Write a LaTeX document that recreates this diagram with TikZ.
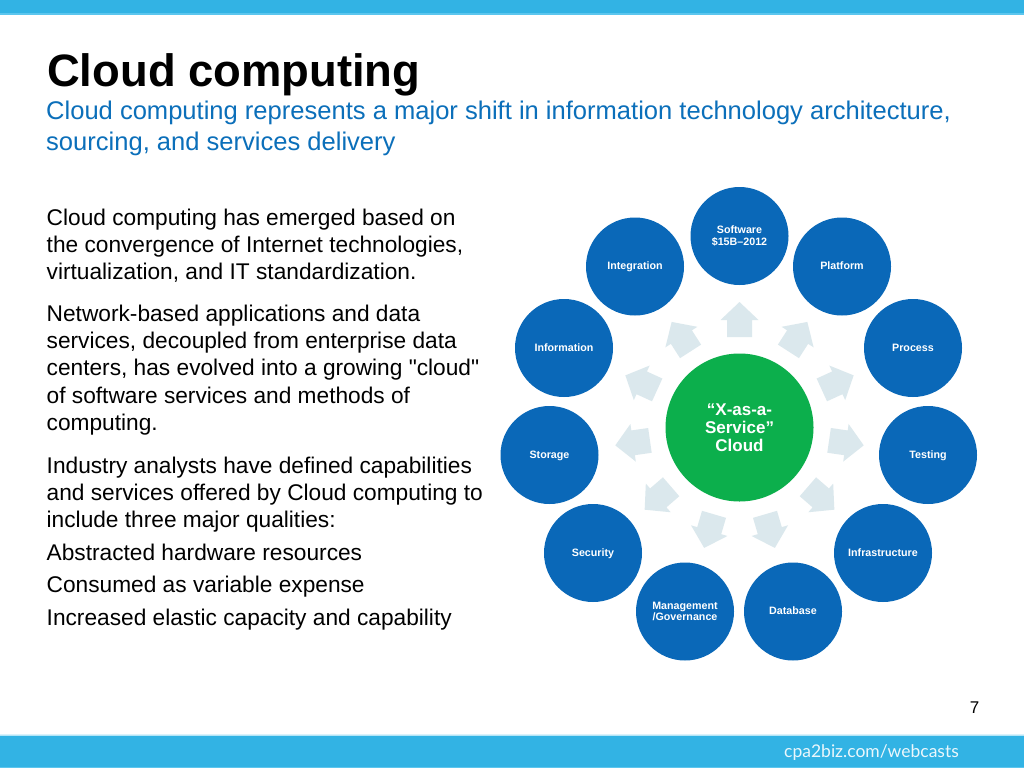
\documentclass[tikz,border=0pt]{standalone}
\usepackage{fontspec}
\setmainfont[Ligatures=TeXOff]{Liberation Sans}
\newfontfamily\footfont{Lato}
\definecolor{barblue}{HTML}{32B3E4}
\definecolor{barlight}{HTML}{5CC6EE}
\definecolor{subblue}{HTML}{0B6FBA}
\definecolor{discblue}{HTML}{0A68B8}
\definecolor{discgreen}{HTML}{0CAF4C}
\definecolor{arrowpale}{HTML}{DBE8ED}
\tikzset{
  disc/.style={circle,fill=discblue,minimum size=98pt,inner sep=0pt,text=white,align=center,
    font=\fontsize{10.7}{11.3}\selectfont\bfseries},
  discone/.style={disc,text height=7.5pt,text depth=1.5pt},
  hub/.style={circle,fill=discgreen,minimum size=148pt,inner sep=0pt,text=white,align=center,
    font=\fontsize{17}{17.8}\selectfont\bfseries},
  bodytext/.style={anchor=north west,inner sep=0pt,align=left,text=black,
    font=\fontsize{22.7}{27.4}\selectfont},
  blockarrow/.style={fill=arrowpale,draw=none},
}
\begin{document}
\begin{tikzpicture}[x=1pt,y=-1pt]
\useasboundingbox (0,0) rectangle (1024,768);
\fill[white] (0,0) rectangle (1024,768);
% bars
\fill[barblue] (0,0) rectangle (1024,14);
\fill[barlight] (0,13.5) rectangle (1024,15);
\fill[top color=white,bottom color=barlight!70!white] (0,733) rectangle (1024,736);
\fill[barblue] (0,736) rectangle (1024,767);
\fill[barlight] (0,767) rectangle (1024,768);
% title
\node[anchor=base west,inner sep=0pt,font=\fontsize{45.4}{45.4}\selectfont\bfseries] (title) at (47,86) {Cloud computing};
\node[anchor=north west,inner sep=0pt,align=left,text=subblue,font=\fontsize{25.55}{31}\selectfont] (subtitle) at (46,100.5)
  {Cloud computing represents a major shift in information technology architecture,\\sourcing, and services delivery};
% body
\node[bodytext] (p1) at (46.5,208.5) {Cloud computing has emerged based on\\the convergence of Internet technologies,\\virtualization, and IT standardization.};
\node[bodytext] (p2) at (46.5,304.5) {Network-based applications and data\\services, decoupled from enterprise data\\centers, has evolved into a growing "cloud"\\of software services and methods of\\computing.};
\node[bodytext] (p3) at (46.5,456.5) {Industry analysts have defined capabilities\\and services offered by Cloud computing to\\include three major qualities:};
\node[bodytext] (q1) at (46.5,544) {Abstracted hardware resources};
\node[bodytext] (q2) at (46.5,576) {Consumed as variable expense};
\node[bodytext] (q3) at (46.5,609) {Increased elastic capacity and capability};
% hub and discs
\node[hub] (hub) at (739.5,427.5) {“X-as-a-\\Service”\\Cloud};
\node[disc] (n0) at (739.5,236) {Software\\\$15B–2012};
\node[discone] (n1) at (842,266.5) {Platform};
\node[discone] (n2) at (913,348) {Process};
\node[discone] (n3) at (928,455) {Testing};
\node[discone] (n4) at (883,553) {Infrastructure};
\node[discone] (n5) at (793,611.5) {Database};
\node[disc] (n6) at (685,611.5) {Management\\/Governance};
\node[discone] (n7) at (593,553) {Security};
\node[discone] (n8) at (549.5,455) {Storage};
\node[discone] (n9) at (564,348) {Information};
\node[discone] (n10) at (635,266.5) {Integration};
% block arrows
\foreach \k in {0,...,10}{
  \fill[blockarrow,shift={(hub.center)},rotate={-32.727*\k}]
    (-12.5,-90.5) -- (12.5,-90.5) -- (12.5,-107.5) -- (19,-107.5) -- (0,-125.5) -- (-19,-107.5) -- (-12.5,-107.5) -- cycle;
}
% page number and footer
\node[anchor=base,inner sep=0pt,font=\fontsize{17}{17}\selectfont] (pageno) at (974.5,713) {7};
\node[anchor=base west,inner sep=0pt,text=white!90!barblue,font=\footfont\fontsize{17.5}{17.5}\selectfont] (foot) at (784,757) {cpa2biz.com/webcasts};
\end{tikzpicture}
\end{document}
